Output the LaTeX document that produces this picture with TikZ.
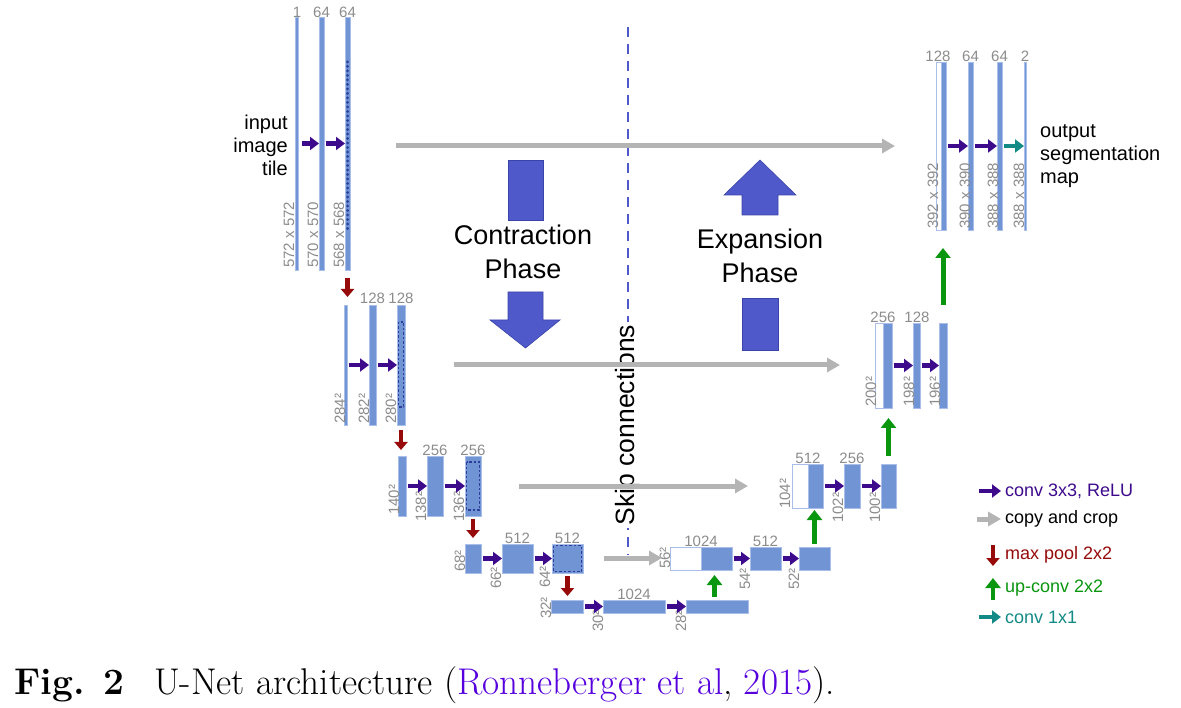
\documentclass[tikz,border=0pt]{standalone}
\usepackage{fontspec}
\setsansfont{Liberation Sans}
\usetikzlibrary{arrows.meta}
\definecolor{barblue}{HTML}{7094D4}
\definecolor{bord}{HTML}{A9BFEA}
\definecolor{dotb}{HTML}{2C3E9A}
\definecolor{convc}{HTML}{3D0A8C}
\definecolor{poolc}{HTML}{960A0A}
\definecolor{upc}{HTML}{0A960F}
\definecolor{onec}{HTML}{138A86}
\definecolor{copyc}{HTML}{B4B4B4}
\definecolor{labc}{HTML}{8C8C8C}
\definecolor{bigc}{HTML}{5059C9}
\definecolor{bigb}{HTML}{3A44A8}
\definecolor{cite}{HTML}{5500DD}
\newcommand{\B}[6]{\node[#6, minimum width={(#4-#2)*1pt}, minimum height={(#5-#3)*1pt}] (#1) at ({(#2+#4)/2},{(#3+#5)/2}) {};}
\newcommand{\T}[3]{\node[lab, anchor=south] at (#1,#2) {#3};}
\newcommand{\R}[3]{\node[lab, anchor=west, rotate=90] at (#1,#2) {#3};}
\tikzset{
 blk/.style={draw=bord, fill=barblue, line width=0.8pt, inner sep=0, outer sep=0},
 wblk/.style={draw=bord, fill=white, line width=0.8pt, inner sep=0, outer sep=0},
 lab/.style={font=\sffamily\fontsize{15}{16}\selectfont, text=labc, inner sep=1pt},
 conv/.style={draw=convc, line width=4.5pt, -{Triangle[length=9pt,width=13pt]}, shorten <=1.5pt},
 one/.style={conv, draw=onec},
 pool/.style={draw=poolc, line width=4.5pt, -{Triangle[length=8pt,width=13pt]}},
 up/.style={draw=upc, line width=5pt, -{Triangle[length=10pt,width=15pt]}},
 copy/.style={draw=copyc, line width=5pt, -{Triangle[length=13pt,width=14pt]}},
 dotl/.style={draw=dotb, line width=3pt, line cap=round, dash pattern=on 0pt off 4.5pt},
 dots/.style={draw=dotb, line width=1.6pt, dash pattern=on 2.5pt off 2pt},
 big/.style={fill=bigc, draw=bigb, line width=0.6pt},
 txt/.style={font=\sffamily\fontsize{20}{23}\selectfont, inner sep=0},
 leg/.style={font=\sffamily\fontsize{18}{20}\selectfont, anchor=west, inner sep=0},
}
\begin{document}
\begin{tikzpicture}[x=1pt,y=-1pt]
\useasboundingbox (0,0) rectangle (1181,708);
% skip line
\draw[bigc, line width=2.8pt, dash pattern=on 10pt off 7pt] (628,27) -- (628,555);
\node[font=\sffamily\fontsize{26.5}{28}\selectfont, rotate=90, fill=white, inner sep=3pt] (skip) at (628,425) {Skip connections};
% big arrows
\draw[big] (508,160) rectangle (543,220);
\node[txt, font=\sffamily\fontsize{27}{30}\selectfont, align=center] (cp) at (523,252) {Contraction\\[4pt]Phase};
\draw[big] (508,292) -- (543,292) -- (543,320) -- (560,320) -- (525.5,348) -- (490,320) -- (508,320) -- cycle;
\draw[big] (760,160) -- (796,195) -- (778,195) -- (778,215) -- (742,215) -- (742,195) -- (724,195) -- cycle;
\node[txt, font=\sffamily\fontsize{27}{30}\selectfont, align=center] (ep) at (760,256) {Expansion\\[4pt]Phase};
\draw[big] (742,298) rectangle (778,350);
% level 1
\B{a1}{295}{17}{298}{270}{blk}
\B{a2}{319}{17}{324}{270}{blk}
\B{a3}{345}{17}{350}{270}{blk}
\draw[dotl] (347.5,62) -- (347.5,232);
\T{297}{19}{1}\T{321.5}{19}{64}\T{347.5}{19}{64}
\R{289}{269}{572 x 572}\R{313}{269}{570 x 570}\R{339}{269}{568 x 568}
\draw[conv] (a1) ++(4,0) -- (a2.west);
\draw[conv] (a2.east) -- (a3.west);
\node[txt, align=right, anchor=east] (in) at (288,145) {input\\image\\tile};
% level 2
\B{b1}{344}{305}{347}{425}{blk}
\B{b2}{369}{305}{376}{425}{blk}
\B{b3}{397}{305}{405}{425}{blk}
\draw[dots] (398.5,322) rectangle (403.5,407);
\T{372.5}{305}{128}\T{401}{305}{128}
\R{340}{425}{284²}\R{364}{425}{282²}\R{391}{425}{280²}
\draw[conv] (b1.east) -- (b2.west);
\draw[conv] (b2.east) -- (b3.west);
\draw[pool, shorten >=8pt] ([yshift=-8pt]a3.south) -- (a3.south |- b1.north);
% level 3
\B{c1}{398}{456}{406}{516}{blk}
\B{c2}{427}{456}{443}{516}{blk}
\B{c3}{465}{456}{481}{516}{blk}
\draw[dots] (466.5,462) rectangle (479.5,510);
\T{435}{457}{256}\T{473}{457}{256}
\R{394}{516}{140²}\R{421}{523}{138²}\R{459}{523}{136²}
\draw[conv] (c1.east) -- (c2.west);
\draw[conv] (c2.east) -- (c3.west);
\draw[pool, shorten >=6pt] ([yshift=-5pt]b3.south) -- (b3.south |- c1.north);
% level 4
\B{d1}{465}{544}{481}{573}{blk}
\B{d2}{502}{544}{533}{573}{blk}
\B{d3}{552}{544}{583}{573}{blk}
\draw[dots] (553.5,545.5) rectangle (581.5,571.5);
\T{517.5}{545}{512}\T{567.5}{545}{512}
\R{460}{573}{68²}\R{496}{590}{66²}\R{545}{589}{64²}
\draw[conv] (d1.east) -- (d2.west);
\draw[conv] (d2.east) -- (d3.west);
\draw[pool, shorten >=6pt] ([yshift=-3pt]c3.south) -- (c3.south |- d1.north);
% level 5
\B{e1}{551}{600}{583}{613}{blk}
\B{e2}{603}{600}{665}{613}{blk}
\B{e3}{686}{600}{748}{613}{blk}
\T{634}{601}{1024}
\R{546}{620}{32²}\R{598}{633}{30²}\R{681}{633}{28²}
\draw[conv] (e1.east) -- (e2.west);
\draw[conv] (e2.east) -- (e3.west);
\draw[pool, shorten >=4pt] ([yshift=-3pt]d3.south) -- (d3.south |- e1.north);
% expansion level 4
\B{f0}{670}{547}{701}{570}{wblk}
\B{f1}{701}{547}{732}{570}{blk}
\B{f2}{750}{547}{781}{570}{blk}
\B{f3}{799}{547}{830}{570}{blk}
\T{701}{548}{1024}\T{765.5}{548}{512}
\R{665}{570}{56²}\R{745}{591}{54²}\R{794}{591}{52²}
\draw[conv] (f1.east) -- (f2.west);
\draw[conv] (f2.east) -- (f3.west);
\draw[up] ([xshift=-2pt,yshift=3pt]e3.north -| f1) -- ([yshift=-5pt,xshift=-2pt]f1.south);
% expansion level 3
\B{g0}{792}{464}{808}{508}{wblk}
\B{g1}{808}{464}{823}{508}{blk}
\B{g2}{844}{464}{860}{508}{blk}
\B{g3}{881}{464}{896}{508}{blk}
\T{808}{465}{512}\T{852}{465}{256}
\R{785}{510}{104²}\R{838}{524}{102²}\R{875}{524}{100²}
\draw[conv] (g1.east) -- (g2.west);
\draw[conv] (g2.east) -- (g3.west);
\draw[up] ([yshift=3pt]f3.north) -- ([yshift=-2pt]g1.south -| f3);
% expansion level 2
\B{h0}{875}{323}{883}{408}{wblk}
\B{h1}{883}{323}{892}{408}{blk}
\B{h2}{913}{323}{920}{408}{blk}
\B{h3}{939}{323}{947}{408}{blk}
\T{883}{324}{256}\T{917}{324}{128}
\R{871}{408}{200²}\R{909}{408}{198²}\R{935}{408}{196²}
\draw[conv] (h1.east) -- (h2.west);
\draw[conv] (h2.east) -- (h3.west);
\draw[up] ([yshift=8pt]g3.north) -- ([yshift=-10pt]h1.south -| g3);
% expansion level 1
\B{i0}{936}{62}{941}{230}{wblk}
\B{i1}{941}{62}{946}{230}{blk}
\B{i2}{968}{62}{973}{230}{blk}
\B{i3}{997}{62}{1002}{230}{blk}
\B{i4}{1024}{62}{1026}{230}{blk}
\T{938}{63}{128}\T{970.5}{63}{64}\T{999.5}{63}{64}\T{1025}{63}{2}
\R{933}{230}{392 x 392}\R{965}{230}{390 x 390}\R{993}{230}{388 x 388}\R{1019}{230}{388 x 388}
\draw[conv] (i1.east) -- (i2.west);
\draw[conv] (i2.east) -- (i3.west);
\draw[one] (i3.east) -- (i4.west);
\draw[up] ([yshift=18pt]h3.north) -- ([yshift=-18pt]i1.south -| h3);
\node[txt, align=left, anchor=west] (out) at (1040,156) {output\\segmentation\\map};
% copy arrows
\coordinate (s1) at (396,146); \coordinate (t1) at (895,146);
\coordinate (s2) at (454,365); \coordinate (t2) at (840,365);
\coordinate (s3) at (519,486); \coordinate (t3) at (748,486);
\coordinate (s4) at (604,558); \coordinate (t4) at (662,558);
\draw[copy] (s1) -- (t1);
\draw[copy] (s2) -- (t2);
\draw[copy] (s3) -- (t3);
\draw[copy] (s4) -- (t4);
% legend
\coordinate (l1a) at (977,491); \coordinate (l1b) at (1001,491);
\draw[conv] (l1a) -- (l1b); \node[leg] (lt1) at (1005,491) {\textcolor{convc}{conv 3x3, ReLU}};
\coordinate (l2a) at (977,519); \coordinate (l2b) at (1001,519);
\draw[copy] (l2a) -- (l2b); \node[leg] (lt2) at (1005,519) {copy and crop};
\coordinate (l3a) at (993,545); \coordinate (l3b) at (993,566);
\draw[pool] (l3a) -- (l3b); \node[leg] (lt3) at (1005,555) {\textcolor{poolc}{max pool 2x2}};
\coordinate (l4a) at (993,600); \coordinate (l4b) at (993,578);
\draw[up, line width=4.5pt] (l4a) -- (l4b); \node[leg] (lt4) at (1005,588) {\textcolor{upc}{up-conv 2x2}};
\coordinate (l5a) at (977,617); \coordinate (l5b) at (1001,617);
\draw[one] (l5a) -- (l5b); \node[leg] (lt5) at (1005,617) {\textcolor{onec}{conv 1x1}};
% caption
\node[anchor=base west, inner sep=0, font=\fontsize{37.2}{41}\selectfont] (cap) at (14,694) {\textbf{Fig. 2}\hspace{0.8em}U-Net architecture (\textcolor{cite}{Ronneberger et al}, \textcolor{cite}{2015}).};
\end{tikzpicture}
\end{document}
